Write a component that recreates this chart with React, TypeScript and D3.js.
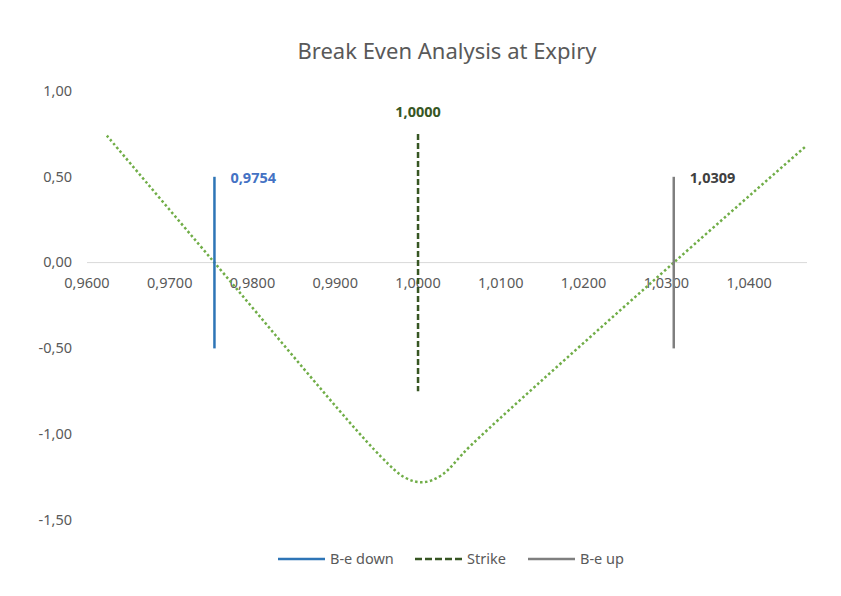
import React, { useEffect, useRef } from "react";
import * as d3 from "d3";

// payoff curve points (spot, P/L)
const payoffX = [0.9624, 0.9754, 0.9955, 0.9985, 1.0006, 1.0028, 1.0065, 1.0309, 1.0469];
const payoffY = [0.74, 0.0, -1.13, -1.255, -1.28, -1.24, -1.06, 0.0, 0.68];

// vertical marker series
const markerNames = ["B-e down", "Strike", "B-e up"];
const markerX = [0.9754, 1.0, 1.0309];
const markerTop = [0.5, 0.75, 0.5];
const markerBottom = [-0.5, -0.75, -0.5];
const markerLabels = ["0,9754", "1,0000", "1,0309"];

const xTicks = [0.96, 0.97, 0.98, 0.99, 1.0, 1.01, 1.02, 1.03, 1.04];
const yTicks = [1.0, 0.5, 0.0, -0.5, -1.0, -1.5];

const width = 841;
const height = 596;

export default function App() {
  const ref = useRef<SVGSVGElement>(null);

  useEffect(() => {
    const svg = d3.select(ref.current);
    svg.selectAll("*").remove();

    const font = "'Noto Sans', 'Open Sans', sans-serif";
    const x = d3.scaleLinear().domain([0.96, 1.047]).range([87, 807]);
    const y = d3.scaleLinear().domain([-1.5, 1.0]).range([520, 91]);
    const comma = (f: string) => (v: number) => d3.format(f)(v).replace(".", ",").replace("−", "-");

    svg
      .append("text")
      .attr("x", 447)
      .attr("y", 53)
      .attr("text-anchor", "middle")
      .attr("dominant-baseline", "middle")
      .attr("font-family", font)
      .attr("font-size", 22)
      .attr("fill", "#595959")
      .text("Break Even Analysis at Expiry");

    // y labels
    svg
      .selectAll(".ylab")
      .data(yTicks)
      .enter()
      .append("text")
      .attr("x", 72)
      .attr("y", (d) => y(d) + 1)
      .attr("text-anchor", "end")
      .attr("dominant-baseline", "middle")
      .attr("font-family", font)
      .attr("font-size", 14.5)
      .attr("fill", "#595959")
      .text(comma(".2f"));

    // x axis at zero
    svg
      .append("line")
      .attr("x1", x.range()[0])
      .attr("x2", x.range()[1])
      .attr("y1", y(0))
      .attr("y2", y(0))
      .attr("stroke", "#d9d9d9")
      .attr("stroke-width", 1);

    svg
      .selectAll(".xlab")
      .data(xTicks)
      .enter()
      .append("text")
      .attr("x", (d) => x(d))
      .attr("y", y(0) + 22)
      .attr("text-anchor", "middle")
      .attr("dominant-baseline", "middle")
      .attr("font-family", font)
      .attr("font-size", 14.5)
      .attr("fill", "#595959")
      .text(comma(".4f"));

    const colors = ["#2e75b6", "#375623", "#7f7f7f"];
    const labelColors = ["#4472c4", "#375623", "#404040"];
    const dashes = [null, "6,3", null];

    // payoff curve
    const pts = payoffX.map((d, i) => [d, payoffY[i]] as [number, number]);
    svg
      .append("path")
      .attr(
        "d",
        d3
          .line()
          .x((d) => x(d[0]))
          .y((d) => y(d[1]))
          .curve(d3.curveCatmullRom.alpha(0.5))(pts)
      )
      .attr("fill", "none")
      .attr("stroke", "#70ad47")
      .attr("stroke-width", 2.5)
      .attr("stroke-dasharray", "2.5,2.5");

    markerX.forEach((mx, i) => {
      svg
        .append("line")
        .attr("x1", x(mx))
        .attr("x2", x(mx))
        .attr("y1", y(markerTop[i]))
        .attr("y2", y(markerBottom[i]))
        .attr("stroke", colors[i])
        .attr("stroke-width", 2.5)
        .attr("stroke-dasharray", dashes[i]);

      const lbl = svg
        .append("text")
        .attr("font-family", font)
        .attr("font-size", 14.5)
        .attr("font-weight", "bold")
        .attr("fill", labelColors[i])
        .attr("dominant-baseline", "middle")
        .text(markerLabels[i]);
      if (i === 1) {
        lbl.attr("x", x(mx)).attr("y", y(markerTop[i]) - 21).attr("text-anchor", "middle");
      } else {
        lbl.attr("x", x(mx) + 16).attr("y", y(markerTop[i]) + 2);
      }
    });

    // legend
    const legendX = [278, 415, 528];
    markerNames.forEach((name, i) => {
      svg
        .append("line")
        .attr("x1", legendX[i])
        .attr("x2", legendX[i] + 47)
        .attr("y1", 559)
        .attr("y2", 559)
        .attr("stroke", colors[i])
        .attr("stroke-width", 2.5)
        .attr("stroke-dasharray", i === 1 ? "7,3" : null);
      svg
        .append("text")
        .attr("x", legendX[i] + 52)
        .attr("y", 560)
        .attr("dominant-baseline", "middle")
        .attr("font-family", font)
        .attr("font-size", 14.5)
        .attr("fill", "#595959")
        .text(name);
    });
  }, []);

  return (
    <svg
      ref={ref}
      width={width}
      height={height}
      style={{ position: "absolute", left: 0, top: 0, background: "#fff" }}
    ></svg>
  );
}
